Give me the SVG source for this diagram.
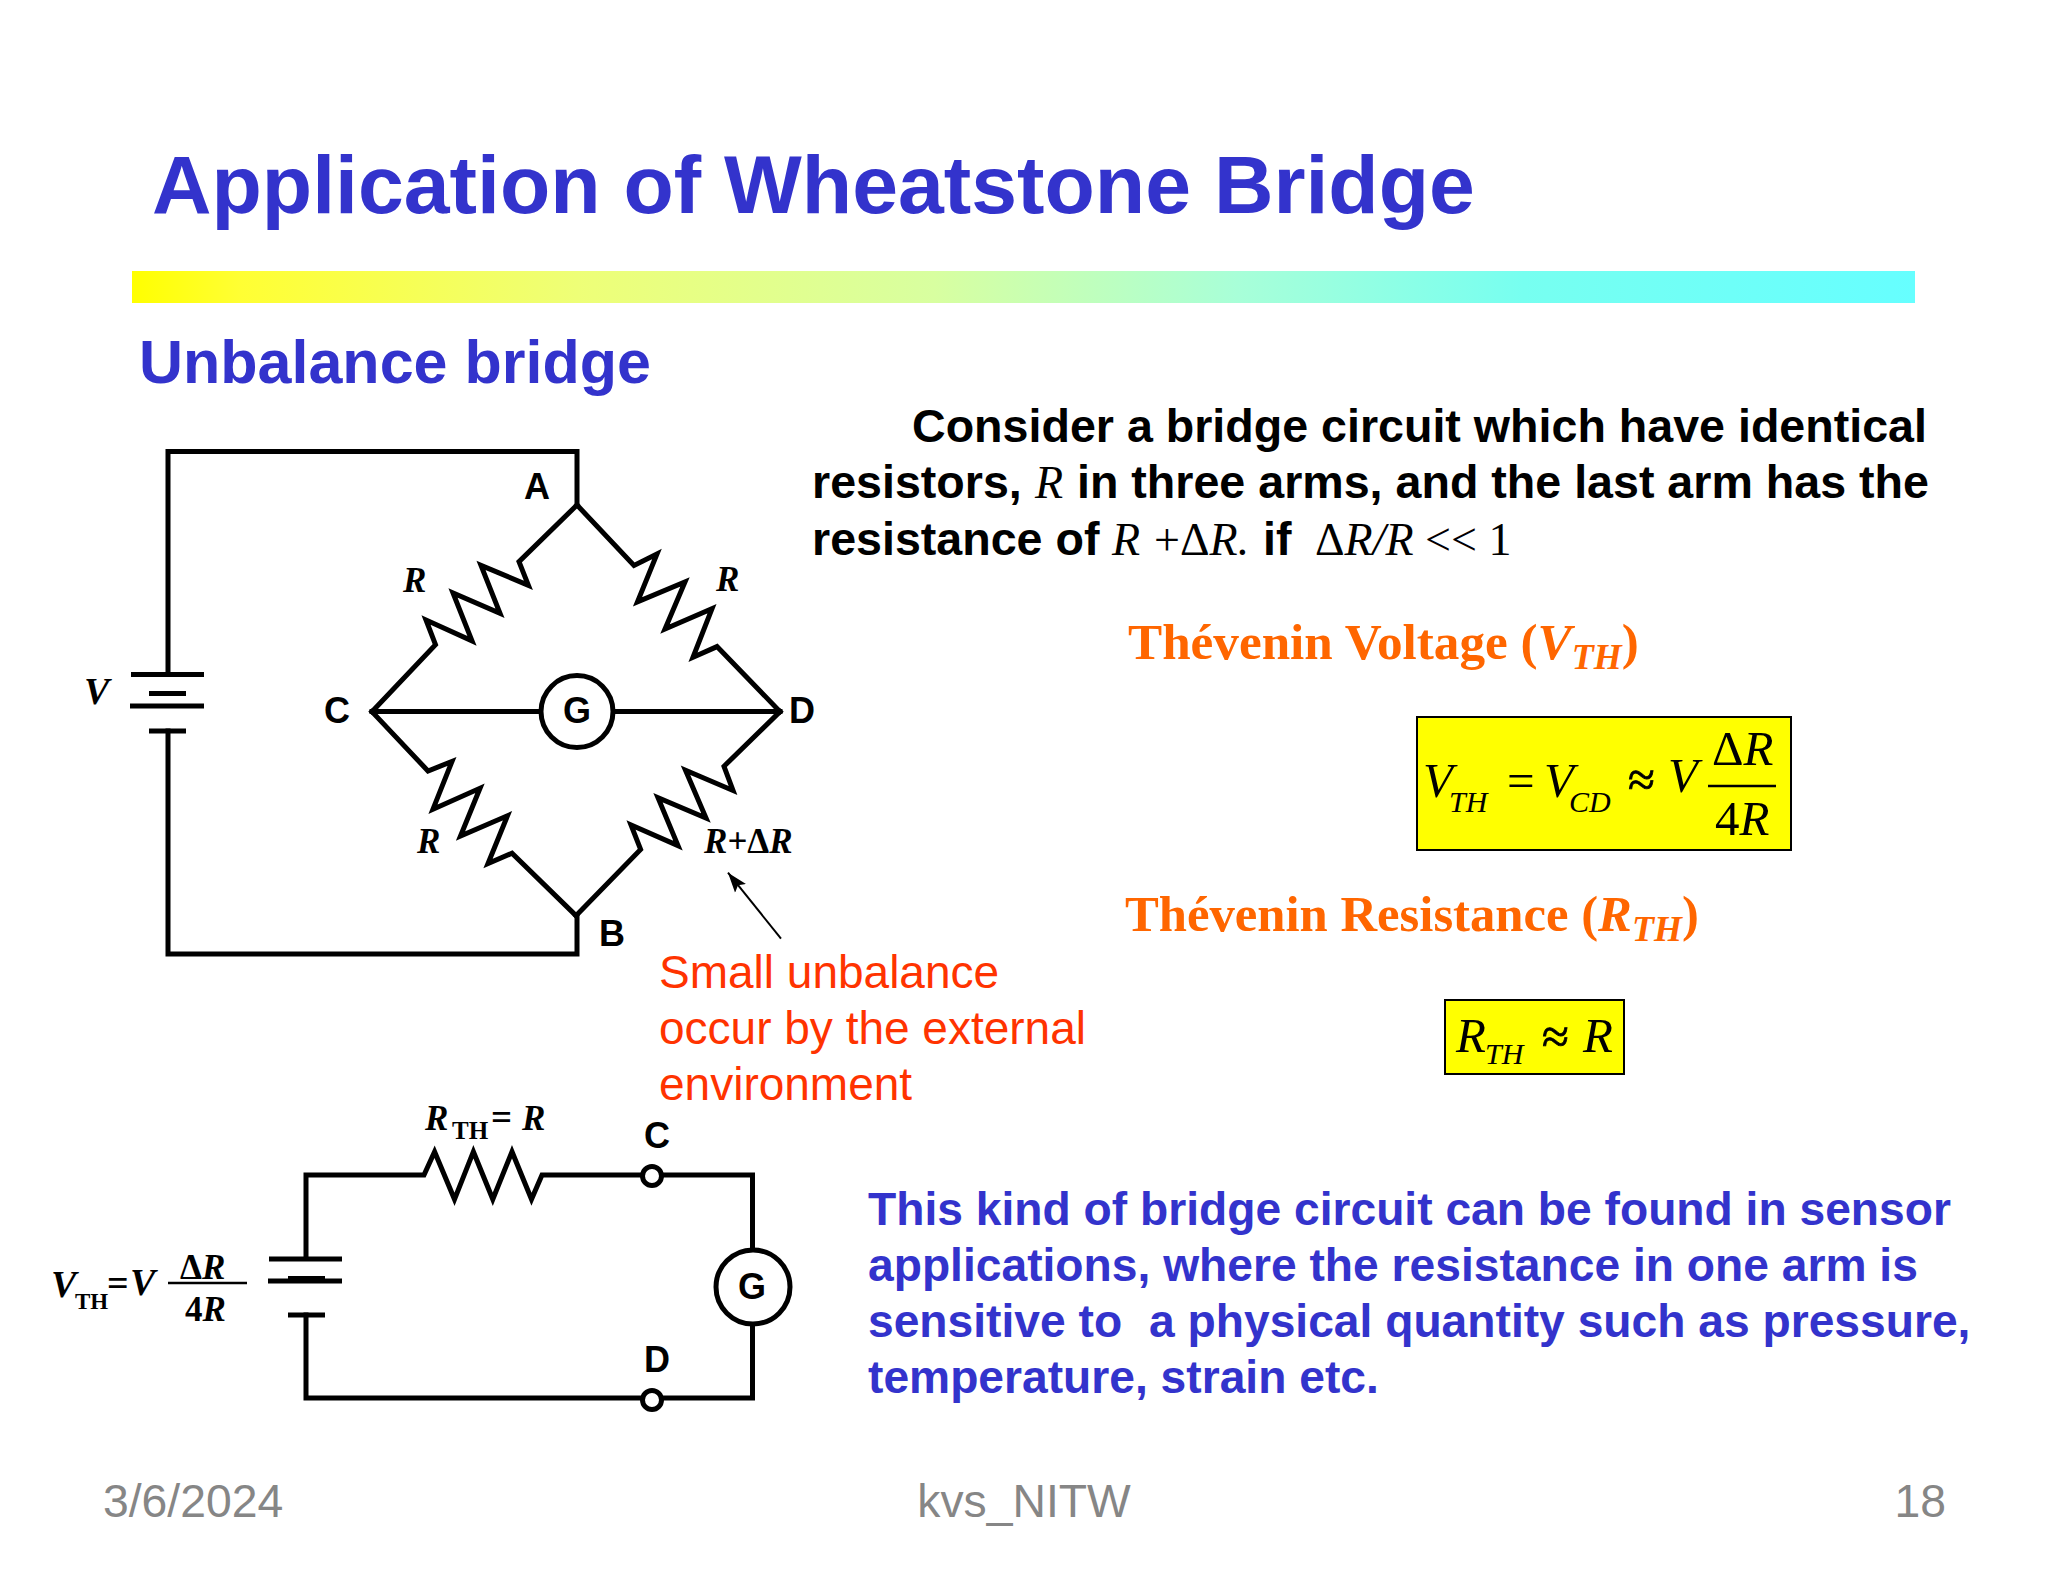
<svg xmlns="http://www.w3.org/2000/svg" width="2048" height="1582" viewBox="0 0 2048 1582">
<style>
text{font-family:"Liberation Sans",Arial,sans-serif}
.t{font-family:"Liberation Serif","Times New Roman",serif}
.i{font-style:italic}
.u{font-style:normal}
.b{font-weight:bold}
.body{font-size:46.600px;font-weight:bold;fill:#000}
.blue{font-size:46.200px;font-weight:bold;fill:#3333CC}
.red{font-size:46px;fill:#FF3300}
.foot{font-size:46.300px;fill:#868686}
.or{font-weight:bold;fill:#FF6600}
.lb{font-size:36px;font-weight:bold;fill:#000}
.m{font-weight:bold;font-style:italic;fill:#000}
.f{font-size:49px;font-style:italic;fill:#000}
.fs{font-size:30px;font-style:italic;fill:#000}
.n{font-size:46px;fill:#000}
.ap{font-size:49px;fill:#000;stroke:#000;stroke-width:.8}
.w{fill:none;stroke:#000;stroke-width:5;stroke-linejoin:miter;stroke-linecap:square}
.p{fill:none;stroke:#000;stroke-width:5}
.el{fill:#fff;stroke:#000;stroke-width:5}
.box{fill:#FFFF00;stroke:#000;stroke-width:2}
</style>
<defs>
<linearGradient id="bar" x1="0" x2="1" y1="0" y2="0">
<stop offset="0" stop-color="#FFFF00"/><stop offset=".06" stop-color="#FFFF33"/><stop offset=".25" stop-color="#EEFF77"/><stop offset=".45" stop-color="#D8FFA0"/><stop offset=".62" stop-color="#A8FFD8"/><stop offset=".78" stop-color="#77FFF0"/><stop offset="1" stop-color="#66FFFF"/>
</linearGradient>
<marker id="ah" markerUnits="userSpaceOnUse" markerWidth="22" markerHeight="18" refX="20" refY="9" orient="auto"><path d="M0 2L20 9L0 16L4 9Z" fill="#000"/></marker>
</defs>
<rect width="2048" height="1582" fill="#fff"/>
<g id="header">
<text x="152" y="213" class="b" font-size="82.400" fill="#3333CC">Application of Wheatstone Bridge</text>
<rect x="132" y="271" width="1783" height="32" fill="url(#bar)"/>
<text x="139" y="383" class="b" font-size="61" fill="#3333CC">Unbalance bridge</text>
</g>
<g id="connectors">
<path class="w" d="M168 674V451.500H577V505"/>
<path class="w" d="M168 731V954H577V915.600"/>
<path class="w" d="M372 711.600H541"/>
<path class="w" d="M613 711.600H780"/>
<path class="w" d="M577 505L519 561.600L528.400 585.300L481 565.400L500 613.300L453 593L472 640.800L426 620L435.500 644.600L372 711.600"/>
<path class="w" d="M577 505L634 565.400L657 554L637.500 601.800L685 581.900L665 629L712 608.700L693 657.300L717 646.600L780 711.600"/>
<path class="w" d="M372 711.600L428 771L452 761.400L433 809.200L480 788.200L460.500 836L507.500 815.700L488 863.500L512 853.200L576 915.600"/>
<path class="w" d="M780 711.600L724 766.300L733 790.500L685.500 770.200L706 818L658 797.700L678 845.600L631 824.900L640.600 849.400L576 915.600"/>
<path d="M781 938.600L728 872.700" fill="none" stroke="#000" stroke-width="2" marker-end="url(#ah)"/>
<path class="w" d="M306 1258V1175H424L434.600 1151.700L454.500 1199.300L473.400 1151.700L492.800 1199.300L512 1151.700L531.500 1199.300L542 1175H752.500V1250"/>
<path class="w" d="M306 1315V1398H752.500V1325"/>
</g>
<g id="battery1">
<path class="p" d="M131 674.500H204M149 693.600H186M130 706H204M149 731H186"/>
</g>
<g id="galvanometer1">
<circle class="el" cx="577" cy="711.600" r="36"/>
<text x="577" y="723" text-anchor="middle" class="lb">G</text>
</g>
<g id="bridge-labels">
<text x="524" y="499" class="lb">A</text>
<text x="599" y="946" class="lb">B</text>
<text x="324" y="723" class="lb">C</text>
<text x="789" y="723" class="lb">D</text>
<text x="84" y="704" class="t m" style="font-size:38px">V</text>
<text x="403" y="592" class="t m" style="font-size:35px">R</text>
<text x="716" y="591" class="t m" style="font-size:35px">R</text>
<text x="417" y="853" class="t m" style="font-size:35px">R</text>
<text x="704" y="853" class="t m" style="font-size:35px">R+<tspan class="u">Δ</tspan>R</text>
</g>
<g id="note">
<text class="red" x="659" y="988">Small unbalance</text>
<text class="red" x="659" y="1044">occur by the external</text>
<text class="red" x="659" y="1100">environment</text>
</g>
<g id="description">
<text class="body" x="912" y="442">Consider a bridge circuit which have identical</text>
<text class="body" x="812" y="498">resistors,</text>
<text class="t n i" x="1035" y="498">R</text>
<text class="body" x="1077" y="498">in three arms, and the last arm has the</text>
<text class="body" x="812" y="555">resistance of</text>
<text class="t n i" x="1112" y="555">R</text>
<text class="t n" x="1154" y="555">+Δ<tspan class="i">R.</tspan></text>
<text class="body" x="1263" y="555">if</text>
<text class="t n" x="1315" y="555">Δ<tspan class="i">R/R</tspan> &lt;&lt; 1</text>
</g>
<g id="thevenin-voltage">
<text class="t or" style="font-size:51.200px" x="1128" y="659">Thévenin Voltage (<tspan class="i">V</tspan><tspan class="i" style="font-size:36px" dy="10">TH</tspan><tspan dy="-10">)</tspan></text>
</g>
<g id="formula-vth">
<rect class="box" x="1417" y="717" width="374" height="133"/>
<text class="t f" x="1423" y="797">V</text>
<text class="t fs" x="1449" y="812">TH</text>
<text class="t" font-size="49" x="1507" y="797">=</text>
<text class="t f" x="1544" y="797">V</text>
<text class="t fs" x="1569" y="812">CD</text>
<text class="t ap" x="1628" y="796">≈</text>
<text class="t f" x="1668" y="792">V</text>
<text class="t" font-size="49" x="1712" y="765">Δ<tspan class="i">R</tspan></text>
<path d="M1708 786H1776" stroke="#000" stroke-width="2.500"/>
<text class="t" font-size="49" x="1715" y="835">4<tspan class="i">R</tspan></text>
</g>
<g id="thevenin-resistance">
<text class="t or" style="font-size:50.700px" x="1125" y="931">Thévenin Resistance (<tspan class="i">R</tspan><tspan class="i" style="font-size:36px" dy="10">TH</tspan><tspan dy="-10">)</tspan></text>
</g>
<g id="formula-rth">
<rect class="box" x="1445" y="1000" width="179" height="74"/>
<text class="t f" x="1456" y="1052">R</text>
<text class="t fs" x="1485" y="1064">TH</text>
<text class="t ap" x="1542" y="1053">≈</text>
<text class="t f" x="1583" y="1052">R</text>
</g>
<g id="battery2">
<path class="p" d="M269 1259H342M268 1281H342M288 1315H325"/>
<rect x="288" y="1276" width="37" height="6" fill="#000"/>
</g>
<g id="terminal-c"><circle class="el" cx="652" cy="1176" r="9.500"/><text x="644" y="1148" class="lb">C</text></g>
<g id="terminal-d"><circle class="el" cx="652" cy="1400" r="9.500"/><text x="644" y="1372" class="lb">D</text></g>
<g id="galvanometer2">
<circle class="el" cx="753" cy="1287" r="37"/>
<text x="752" y="1299" text-anchor="middle" class="lb">G</text>
</g>
<g id="thevenin-labels">
<text class="t m" style="font-size:35px" x="425" y="1130">R</text>
<text class="t b" font-size="25" x="452" y="1139">TH</text>
<text class="t b" font-size="37" x="491" y="1130">=</text>
<text class="t m" style="font-size:35px" x="522" y="1130">R</text>
<text class="t m" style="font-size:38px" x="51" y="1297">V</text>
<text class="t b" font-size="23" x="75" y="1309">TH</text>
<text class="t b" font-size="38" x="107" y="1296">=</text>
<text class="t m" style="font-size:38px" x="130" y="1295">V</text>
<text class="t b" font-size="35" x="180" y="1279">Δ<tspan class="i">R</tspan></text>
<path d="M168 1283H247" stroke="#000" stroke-width="2.500"/>
<text class="t b" font-size="35" x="185" y="1321">4<tspan class="i">R</tspan></text>
</g>
<g id="application-note">
<text class="blue" x="868" y="1225">This kind of bridge circuit can be found in sensor</text>
<text class="blue" x="868" y="1281">applications, where the resistance in one arm is</text>
<text class="blue" x="868" y="1337">sensitive to <tspan x="1149">a physical quantity such as pressure,</tspan></text>
<text class="blue" x="868" y="1393">temperature, strain etc.</text>
</g>
<g id="footer">
<text class="foot" x="103" y="1517">3/6/2024</text>
<text class="foot" x="1024" y="1517" text-anchor="middle">kvs_NITW</text>
<text class="foot" x="1946" y="1517" text-anchor="end">18</text>
</g>
</svg>
